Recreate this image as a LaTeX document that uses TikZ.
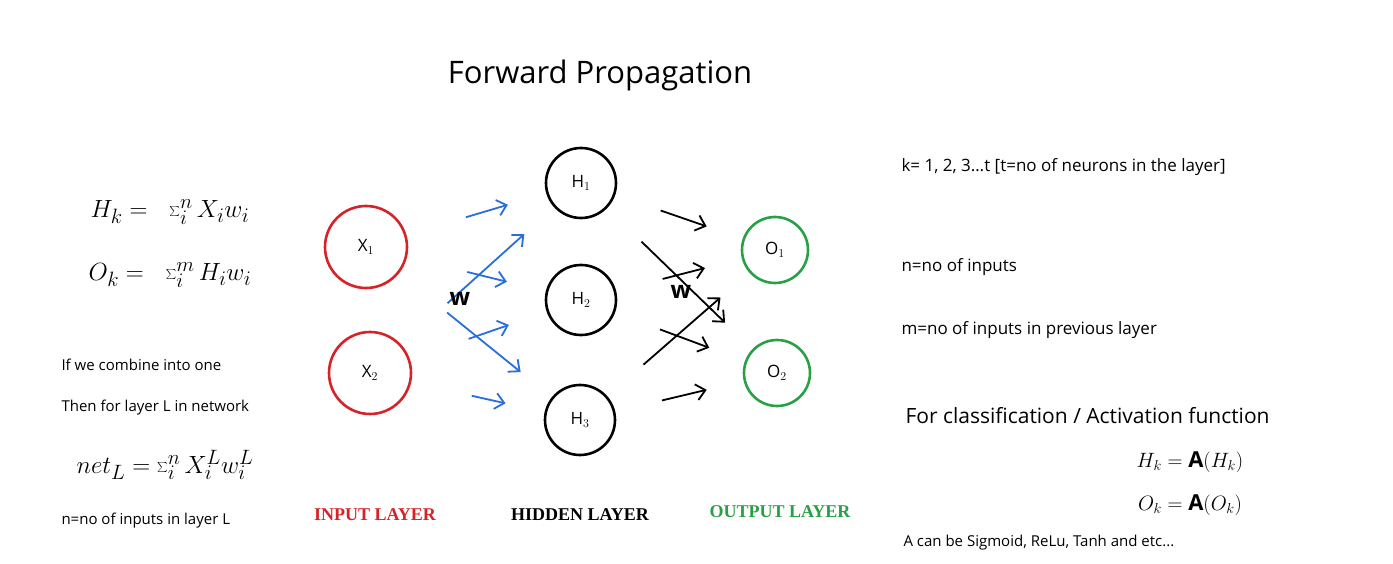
\documentclass[tikz,border=0pt]{standalone}
\usepackage{fontspec}
\setmainfont{Open Sans}
\newfontfamily\serifb{Liberation Serif}
\usetikzlibrary{arrows.meta}
\begin{document}
\begin{tikzpicture}[x=1pt,y=-1pt,
  neuron/.style={circle,line width=2.6pt,minimum size=70pt,inner sep=0pt,font=\fontsize{17}{20}\selectfont},
  blue arr/.style={draw={rgb,255:red,40;green,110;blue,220},line width=1.8pt,-{Straight Barb[length=9pt,width=16pt]},shorten <=62pt,shorten >=40pt},
  black arr/.style={draw=black,line width=1.8pt,-{Straight Barb[length=9pt,width=16pt]},shorten <=48pt,shorten >=38pt},
  lbl/.style={font=\serifb\bfseries\fontsize{18}{22}\selectfont},
  note/.style={anchor=west,font=\fontsize{17}{20}\selectfont},
  small/.style={anchor=west,font=\fontsize{15}{18}\selectfont}]
\useasboundingbox (0,0) rectangle (1393,564);
\fill[white] (0,0) rectangle (1393,564);
\node (title) at (600,75) {\fontsize{31}{36}\selectfont Forward Propagation};
\node[neuron,draw={rgb,255:red,215;green,35;blue,40},minimum size=82pt] (x1) at (366,247) {X$_1$};
\node[neuron,draw={rgb,255:red,215;green,35;blue,40},minimum size=82pt] (x2) at (370,373) {X$_2$};
\node[neuron,draw=black] (h1) at (581,183) {H$_1$};
\node[neuron,draw=black] (h2) at (581,300) {H$_2$};
\node[neuron,draw=black] (h3) at (580,420) {H$_3$};
\node[neuron,draw={rgb,255:red,40;green,160;blue,70},minimum size=66pt] (o1) at (775,250) {O$_1$};
\node[neuron,draw={rgb,255:red,40;green,160;blue,70},minimum size=66pt] (o2) at (777,373) {O$_2$};
\foreach \a in {x1,x2}\foreach \b in {h1,h2,h3}{\draw[blue arr] (\a) -- (\b);}
\foreach \a in {h1,h2,h3}\foreach \b in {o1,o2}{\draw[black arr] (\a) -- (\b);}
\node[font=\fontsize{24}{28}\selectfont\bfseries] (w1) at (460,299) {w};
\node[font=\fontsize{24}{28}\selectfont\bfseries] (w2) at (681,292) {w};
\node (eh) at (170,212) {\fontsize{29}{34}\selectfont $H_k=\ \ \textstyle\sum_i^n X_i w_i$};
\node (eo) at (170,275) {\fontsize{29}{34}\selectfont $O_k=\ \ \textstyle\sum_i^m H_i w_i$};
\node[small] (c1) at (58,365) {If we combine into one};
\node[small] (c2) at (58,408) {Then for layer L in network};
\node (en) at (165,465) {\fontsize{29}{34}\selectfont $net_L=\textstyle\sum_i^n X_i^L w_i^L$};
\node[small] (c3) at (58,521) {n=no of inputs in layer L};
\node[lbl,text={rgb,255:red,215;green,35;blue,40}] (il) at (375,515) {INPUT LAYER};
\node[lbl] (hl) at (580,515) {HIDDEN LAYER};
\node[lbl,text={rgb,255:red,40;green,160;blue,70}] (ol) at (780,512) {OUTPUT LAYER};
\node[note] (r1) at (898,167) {k= 1, 2, 3…t [t=no of neurons in the layer]};
\node[note] (r2) at (898,267) {n=no of inputs};
\node[note] (r3) at (898,330) {m=no of inputs in previous layer};
\node[note,font=\fontsize{21}{25}\selectfont] (r4) at (902,416) {For classification / Activation function};
\node (a1) at (1190,462) {\fontsize{22}{26}\selectfont $H_k=\mathbf{A}(H_k)$};
\node (a2) at (1190,505) {\fontsize{22}{26}\selectfont $O_k=\mathbf{A}(O_k)$};
\node[small] (r5) at (900,543) {A can be Sigmoid, ReLu, Tanh and etc...};
\end{tikzpicture}
\end{document}
